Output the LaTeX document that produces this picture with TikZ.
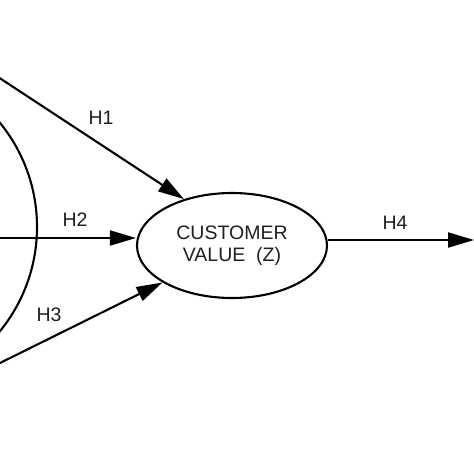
\documentclass[tikz,border=0pt]{standalone}
\usepackage{fontspec}
\setmainfont{Liberation Sans}
\usetikzlibrary{shapes.geometric,arrows.meta}
\tikzset{
  conn/.style={line width=2.1pt, -{Triangle[length=26pt,width=15pt]}},
  lbl/.style={font=\fontsize{19.5}{22}\selectfont, text=black!88, inner sep=0pt},
  cvnode/.style={ellipse, draw, line width=2.1pt, minimum width=190pt, minimum height=105pt, inner sep=0pt, align=center, font=\fontsize{19.5}{22}\selectfont, text=black!88}
}
\begin{document}
\begin{tikzpicture}[x=1pt,y=-1pt]
\useasboundingbox (0,0) rectangle (474,474);
\clip (0,0) rectangle (474,474);
\fill[white] (0,0) rectangle (474,474);
% left big arc
\draw[line width=2.1pt] (-128,227) circle[radius=165pt];
% customer value node
\node[cvnode] (e) at (232,245.5) {CUSTOMER\\VALUE\ \ (Z)};
% free ends
\coordinate (s1) at (-2,77);
\coordinate (s2) at (-2,238);
\coordinate (s3) at (-2,364);
\coordinate (t4) at (474,240);
\draw[conn] (s1) -- (e.136);
\draw[conn] (s2) -- (s2 -| e.west);
\draw[conn] (s3) -- (e.208.5);
\draw[conn] (e.east |- t4) -- (t4);
% labels
\node[lbl] (h1) at (101,118) {H1};
\node[lbl] (h2) at (75,220) {H2};
\node[lbl] (h3) at (49,315) {H3};
\node[lbl] (h4) at (395,223) {H4};
\end{tikzpicture}
\end{document}
